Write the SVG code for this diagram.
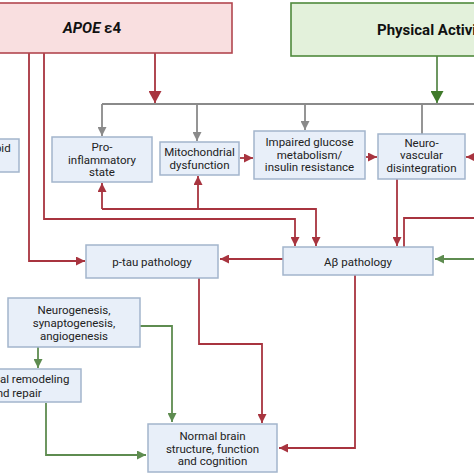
<svg xmlns="http://www.w3.org/2000/svg" width="474" height="474" viewBox="0 0 474 474">
<defs>
<style>
.box{fill:#e8eff9;stroke:#a3b5cc;stroke-width:1.5}
.t{font-family:Roboto,"Liberation Sans",sans-serif;font-size:11.5px;fill:#222;text-anchor:middle}
.r{fill:none;stroke:#a8343f;stroke-width:1.8}
.g{fill:none;stroke:#5e8c50;stroke-width:1.8}
.gr{fill:none;stroke:#8a8a8a;stroke-width:1.8}
</style>
<marker id="ar" markerUnits="userSpaceOnUse" markerWidth="9" markerHeight="9" refX="9" refY="4.5" orient="auto" viewBox="0 0 9 9"><path d="M0,0L9,4.5L0,9z" fill="#a8343f"/></marker>
<marker id="ag" markerUnits="userSpaceOnUse" markerWidth="9" markerHeight="9" refX="9" refY="4.5" orient="auto" viewBox="0 0 9 9"><path d="M0,0L9,4.5L0,9z" fill="#5e8c50"/></marker>
<marker id="agr" markerUnits="userSpaceOnUse" markerWidth="9" markerHeight="9" refX="9" refY="4.5" orient="auto" viewBox="0 0 9 9"><path d="M0,0L9,4.5L0,9z" fill="#8a8a8a"/></marker>
<marker id="arB" markerUnits="userSpaceOnUse" markerWidth="12" markerHeight="13" refX="12" refY="6.5" orient="auto" viewBox="0 0 12 13"><path d="M0,0L12,6.5L0,13z" fill="#a8343f"/></marker>
<marker id="agB" markerUnits="userSpaceOnUse" markerWidth="12" markerHeight="13" refX="12" refY="6.5" orient="auto" viewBox="0 0 12 13"><path d="M0,0L12,6.5L0,13z" fill="#3f7a2a"/></marker>
</defs>
<rect width="474" height="474" fill="#fff"/>
<g id="connectors">
<path class="r" d="M155,53V103" stroke-width="2.2" marker-end="url(#arB)"/>
<path class="g" d="M437,56V103" stroke="#3f7a2a" stroke-width="2.2" marker-end="url(#agB)"/>
<path class="gr" d="M102,104H474"/>
<path class="gr" d="M102,104V136" marker-end="url(#agr)"/>
<path class="gr" d="M197,104V141" marker-end="url(#agr)"/>
<path class="gr" d="M305,104V130" marker-end="url(#agr)"/>
<path class="gr" d="M422,104V134"/>
<path class="r" d="M240,158H253" marker-end="url(#ar)"/>
<path class="r" d="M366,157H377" marker-end="url(#ar)"/>
<path class="r" d="M474,157H466" marker-end="url(#ar)"/>
<path class="r" d="M29,53V261H85" marker-end="url(#ar)"/>
<path class="r" d="M44,53V219H295V246" marker-end="url(#ar)"/>
<path class="r" d="M102,209H316V246" marker-end="url(#ar)"/>
<path class="r" d="M102,209V183" marker-end="url(#ar)"/>
<path class="r" d="M198,209V176" marker-end="url(#ar)"/>
<path class="r" d="M397,179V246" marker-end="url(#ar)"/>
<path class="r" d="M474,218H404V247"/>
<path class="r" d="M283,259H220" marker-end="url(#ar)"/>
<path class="g" d="M474,259H435" marker-end="url(#ag)"/>
<path class="r" d="M355,275V448H279" marker-end="url(#ar)"/>
<path class="r" d="M199,278V344H262V423" marker-end="url(#ar)"/>
<path class="g" d="M140,326H172V422" marker-end="url(#ag)"/>
<path class="g" d="M38,347V368" marker-end="url(#ag)"/>
<path class="g" d="M46,403V455H146" marker-end="url(#ag)"/>
</g>
<g id="apoe">
<rect x="-20" y="3" width="252" height="50" fill="#f9dfe0" stroke="#b2464f" stroke-width="1.6"/>
<text x="92" y="33" font-family="Roboto,'Liberation Sans',sans-serif" font-size="15" font-weight="bold" fill="#111" text-anchor="middle"><tspan font-style="italic">APOE</tspan> ε4</text>
</g>
<g id="physical-activity">
<rect x="291" y="3" width="200" height="53" fill="#e3f1db" stroke="#4f8a3c" stroke-width="1.6"/>
<text x="377" y="35" font-family="Roboto,'Liberation Sans',sans-serif" font-size="15" font-weight="bold" fill="#111">Physical Activity</text>
</g>
<g id="lipid">
<rect x="-80" y="139" width="99" height="33" class="box"/>
<text class="t" x="-24" y="152">Impaired lipid</text>
<text class="t" x="-24" y="165">transport</text>
</g>
<g id="pro-inflammatory">
<rect x="52" y="137" width="100" height="45" class="box"/>
<text class="t" x="102" y="151">Pro-</text>
<text class="t" x="102" y="164">inflammatory</text>
<text class="t" x="102" y="176">state</text>
</g>
<g id="mitochondrial">
<rect x="160" y="142" width="79" height="33" class="box"/>
<text class="t" x="199.5" y="156">Mitochondrial</text>
<text class="t" x="199.5" y="169">dysfunction</text>
</g>
<g id="impaired-glucose">
<rect x="254" y="131" width="111" height="48" class="box"/>
<text class="t" x="309.5" y="146">Impaired glucose</text>
<text class="t" x="309.5" y="159">metabolism/</text>
<text class="t" x="309.5" y="171">insulin resistance</text>
</g>
<g id="neurovascular">
<rect x="378" y="134" width="87" height="45" class="box"/>
<text class="t" x="421.5" y="147">Neuro-</text>
<text class="t" x="421.5" y="159">vascular</text>
<text class="t" x="421.5" y="172">disintegration</text>
</g>
<g id="ptau">
<rect x="86" y="245" width="132" height="33" class="box"/>
<text class="t" x="152" y="266">p-tau pathology</text>
</g>
<g id="abeta">
<rect x="283" y="247" width="150" height="28" class="box"/>
<text class="t" x="358" y="266">Aβ pathology</text>
</g>
<g id="neurogenesis">
<rect x="8" y="298" width="132" height="49" class="box"/>
<text class="t" x="74" y="314">Neurogenesis,</text>
<text class="t" x="74" y="327">synaptogenesis,</text>
<text class="t" x="74" y="340">angiogenesis</text>
</g>
<g id="remodeling">
<rect x="-40" y="369" width="121" height="33" class="box"/>
<text class="t" x="16" y="383">Neuronal remodeling</text>
<text class="t" x="16" y="397">and repair</text>
</g>
<g id="normal-brain">
<rect x="148" y="424" width="129" height="48" class="box"/>
<text class="t" x="212.5" y="440">Normal brain</text>
<text class="t" x="212.5" y="453">structure, function</text>
<text class="t" x="212.5" y="465">and cognition</text>
</g>
</svg>
